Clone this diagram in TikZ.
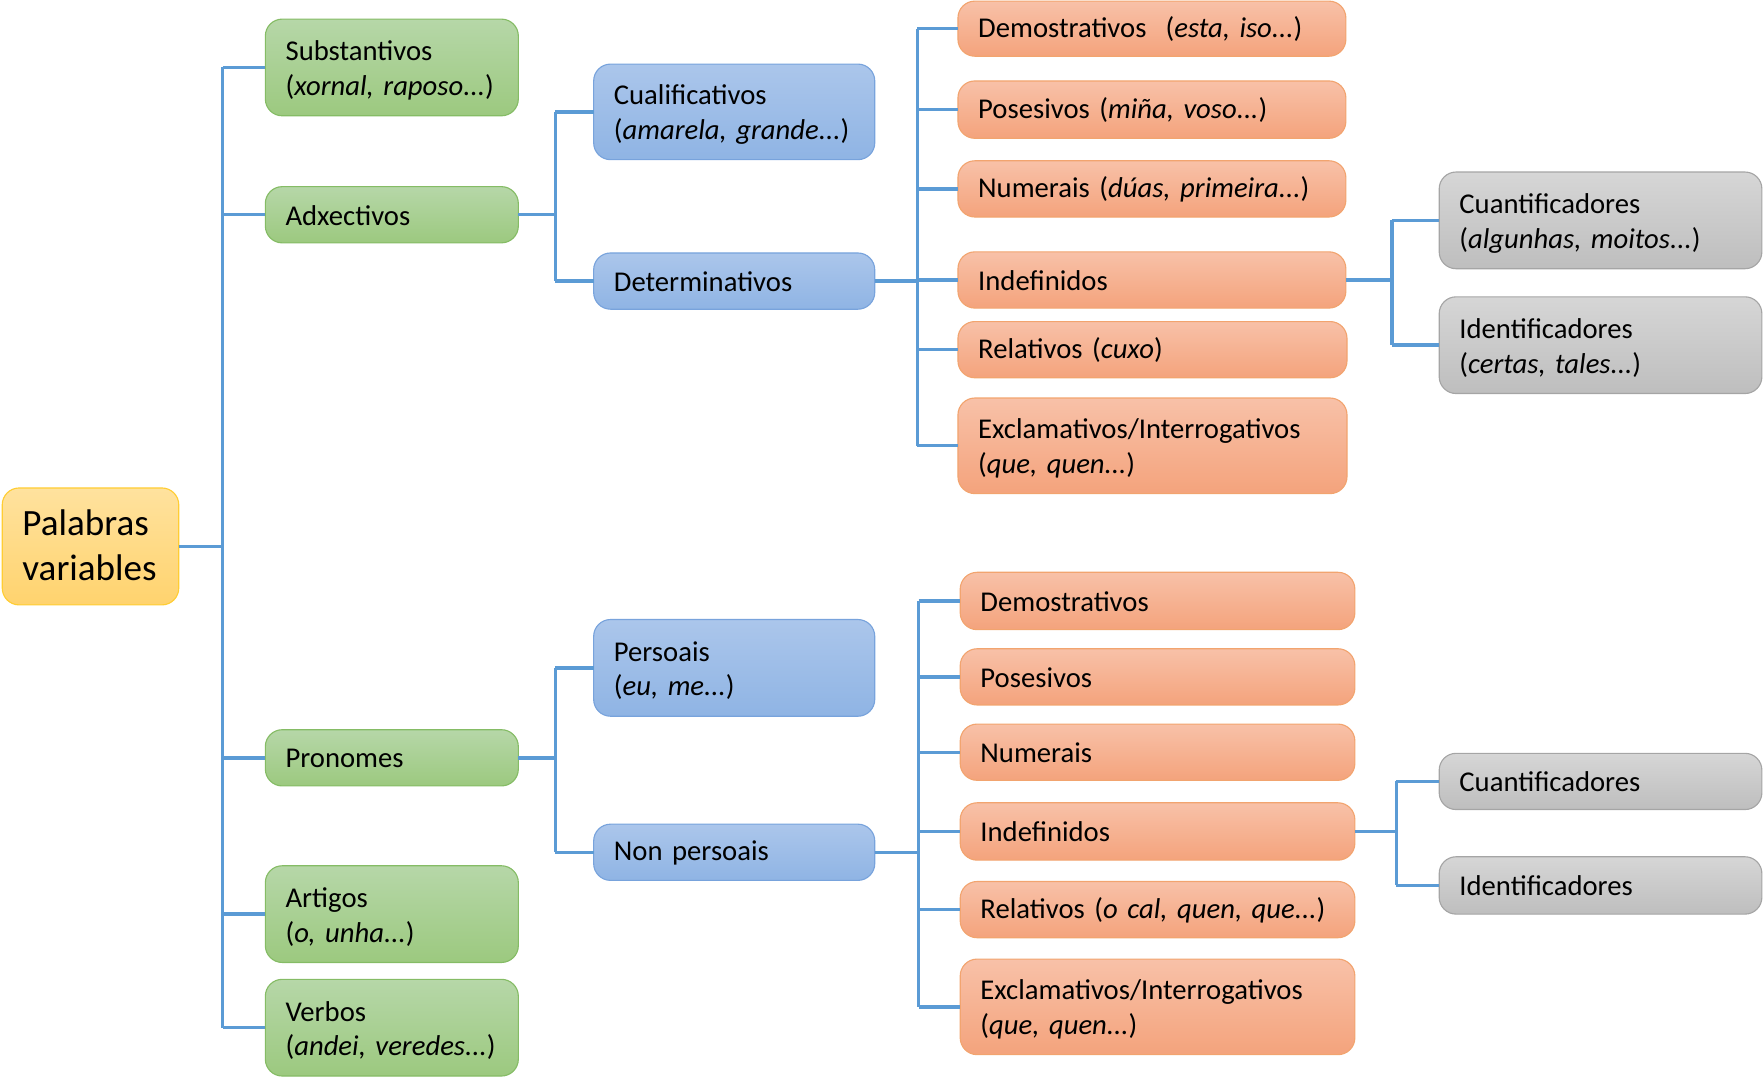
\documentclass[tikz,border=0pt]{standalone}
\usepackage{fontspec}
\setmainfont{Carlito}
\usetikzlibrary{calc}
\frenchspacing
\definecolor{lineblue}{RGB}{91,155,213}
\definecolor{gtop}{RGB}{182,215,168}
\definecolor{gbot}{RGB}{156,201,127}
\definecolor{gdraw}{RGB}{133,188,101}
\definecolor{btop}{RGB}{171,198,235}
\definecolor{bbot}{RGB}{143,180,228}
\definecolor{bdraw}{RGB}{120,163,220}
\definecolor{otop}{RGB}{248,193,168}
\definecolor{obot}{RGB}{244,163,124}
\definecolor{odraw}{RGB}{237,125,49}
\definecolor{ytop}{RGB}{255,226,158}
\definecolor{ybot}{RGB}{255,211,110}
\definecolor{ydraw}{RGB}{255,192,0}
\definecolor{stop}{RGB}{214,214,214}
\definecolor{sbot}{RGB}{190,190,190}
\definecolor{sdraw}{RGB}{165,165,165}
\tikzset{
  basebox/.style={rounded corners=15pt, line width=1pt, inner sep=0pt, outer sep=0pt},
  boxtext/.style={align=left, inner sep=0pt, font=\fontsize{25.5}{31}\selectfont, yshift=-2.5pt},
  oneline/.style={boxtext, yshift=2pt},
  roottext/.style={align=left, inner sep=0pt, font=\fontsize{33}{40}\selectfont, yshift=1pt},
  greenbox/.style={basebox, top color=gtop, bottom color=gbot, draw=gdraw},
  bluebox/.style={basebox, top color=btop, bottom color=bbot, draw=bdraw},
  orangebox/.style={basebox, top color=otop, bottom color=obot, draw=odraw!70},
  greybox/.style={basebox, top color=stop, bottom color=sbot, draw=sdraw},
  rootbox/.style={basebox, top color=ytop, bottom color=ybot, draw=ydraw!80},
  conn/.style={draw=lineblue, line width=3pt}
}
\newcommand{\mybox}[8]{%
  \pgfmathsetmacro\bw{#5-#3}%
  \pgfmathsetmacro\bh{#6-#4}%
  \pgfmathsetmacro\tw{#5-#3-36}%
  \pgfmathsetmacro\cx{(#3+#5)/2}%
  \pgfmathsetmacro\cy{(#4+#6)/2}%
  \node[#2, minimum width=\bw pt, minimum height=\bh pt,
    label={[#7, text width=\tw pt]center:{#8}}] (#1) at (\cx,\cy) {};%
}
\begin{document}
\begin{tikzpicture}[x=1pt,y=-1pt]
\useasboundingbox (0,0) rectangle (1568,960);

% root
\mybox{root}{rootbox}{2}{434}{159}{538}{roottext}{Palabras\\variables}

% green
\mybox{subst}{greenbox}{236}{17}{461}{103}{boxtext}{Substantivos\\(\textit{xornal, raposo...})}
\mybox{adx}{greenbox}{236}{166}{461}{216}{oneline}{Adxectivos}
\mybox{pron}{greenbox}{236}{649}{461}{699}{oneline}{Pronomes}
\mybox{art}{greenbox}{236}{770}{461}{856}{boxtext}{Artigos\\(\textit{o, unha...})}
\mybox{verb}{greenbox}{236}{871}{461}{957}{boxtext}{Verbos\\(\textit{andei, veredes...})}

% blue
\mybox{cual}{bluebox}{528}{57}{778}{142}{boxtext}{Cualificativos\\(\textit{amarela, grande...})}
\mybox{det}{bluebox}{528}{225}{778}{275}{oneline}{Determinativos}
\mybox{pers}{bluebox}{528}{551}{778}{637}{boxtext}{Persoais\\(\textit{eu, me...})}
\mybox{nonp}{bluebox}{528}{733}{778}{783}{oneline}{Non persoais}

% orange top
\mybox{dem1}{orangebox}{852}{1}{1197}{50}{oneline}{Demostrativos\ \ (\textit{esta, iso...})}
\mybox{pos1}{orangebox}{852}{72}{1197}{123}{oneline}{Posesivos (\textit{miña, voso...})}
\mybox{num1}{orangebox}{852}{143}{1197}{193}{oneline}{Numerais (\textit{dúas, primeira...})}
\mybox{ind1}{orangebox}{852}{224}{1197}{274}{oneline}{Indefinidos}
\mybox{rel1}{orangebox}{852}{286}{1198}{336}{oneline}{Relativos (\textit{cuxo})}
\mybox{exc1}{orangebox}{852}{354}{1198}{439}{boxtext}{Exclamativos/Interrogativos\\(\textit{que, quen...})}

% orange bottom
\mybox{dem2}{orangebox}{854}{509}{1205}{560}{oneline}{Demostrativos}
\mybox{pos2}{orangebox}{854}{577}{1205}{627}{oneline}{Posesivos}
\mybox{num2}{orangebox}{854}{644}{1205}{694}{oneline}{Numerais}
\mybox{ind2}{orangebox}{854}{714}{1205}{765}{oneline}{Indefinidos}
\mybox{rel2}{orangebox}{854}{784}{1205}{834}{oneline}{Relativos (\textit{o cal, quen, que...})}
\mybox{exc2}{orangebox}{854}{853}{1205}{938}{boxtext}{Exclamativos/Interrogativos\\(\textit{que, quen...})}

% grey
\mybox{cuan1}{greybox}{1280}{153}{1567}{239}{boxtext}{Cuantificadores\\(\textit{algunhas, moitos...})}
\mybox{iden1}{greybox}{1280}{264}{1567}{350}{boxtext}{Identificadores\\(\textit{certas, tales...})}
\mybox{cuan2}{greybox}{1280}{670}{1567}{720}{oneline}{Cuantificadores}
\mybox{iden2}{greybox}{1280}{762}{1567}{813}{oneline}{Identificadores}

% bus coordinates
\coordinate (b1) at (198,0);
\coordinate (b2) at (494,0);
\coordinate (b3) at (816,0);
\coordinate (b4) at (1238,0);
\coordinate (b5) at (494,0);
\coordinate (b6) at (817,0);
\coordinate (b7) at (1242,0);

% level 1
\draw[conn] (root.east) -- (root.east -| b1);
\draw[conn] (b1 |- subst.west) -- (b1 |- verb.west);
\foreach \n in {subst,adx,pron,art,verb} \draw[conn] (b1 |- \n.west) -- (\n.west);

% adxectivos
\draw[conn] (adx.east) -- (adx.east -| b2);
\draw[conn] (b2 |- cual.west) -- (b2 |- det.west);
\foreach \n in {cual,det} \draw[conn] (b2 |- \n.west) -- (\n.west);

% determinativos
\draw[conn] (det.east) -- (det.east -| b3);
\draw[conn] (b3 |- dem1.west) -- (b3 |- exc1.west);
\foreach \n in {dem1,pos1,num1,ind1,rel1,exc1} \draw[conn] (b3 |- \n.west) -- (\n.west);

% indefinidos 1
\draw[conn] (ind1.east) -- (ind1.east -| b4);
\draw[conn] (b4 |- cuan1.west) -- (b4 |- iden1.west);
\foreach \n in {cuan1,iden1} \draw[conn] (b4 |- \n.west) -- (\n.west);

% pronomes
\draw[conn] (pron.east) -- (pron.east -| b5);
\draw[conn] (b5 |- pers.west) -- (b5 |- nonp.west);
\foreach \n in {pers,nonp} \draw[conn] (b5 |- \n.west) -- (\n.west);

% non persoais
\draw[conn] (nonp.east) -- (nonp.east -| b6);
\draw[conn] (b6 |- dem2.west) -- (b6 |- exc2.west);
\foreach \n in {dem2,pos2,num2,ind2,rel2,exc2} \draw[conn] (b6 |- \n.west) -- (\n.west);

% indefinidos 2
\draw[conn] (ind2.east) -- (ind2.east -| b7);
\draw[conn] (b7 |- cuan2.west) -- (b7 |- iden2.west);
\foreach \n in {cuan2,iden2} \draw[conn] (b7 |- \n.west) -- (\n.west);
\end{tikzpicture}
\end{document}
